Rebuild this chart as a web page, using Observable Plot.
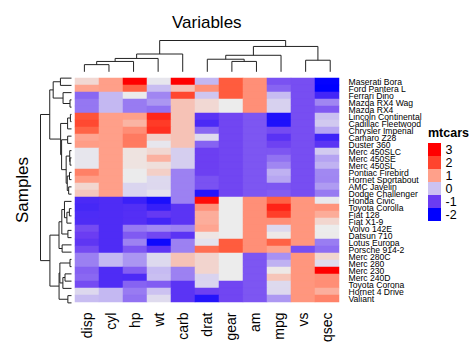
<!DOCTYPE html>
<html><head><meta charset="utf-8">
<script src="https://cdn.jsdelivr.net/npm/d3@7"></script>
<script src="https://cdn.jsdelivr.net/npm/@observablehq/plot@0.6"></script>
<style>
html,body{margin:0;padding:0;background:#fff;}
#chart{position:relative;width:474px;height:351px;font-family:"Liberation Sans",Arial,sans-serif;overflow:hidden;}
#chart svg{position:absolute;left:0;top:0;}
</style></head><body><div id="chart">
<svg width="474" height="351" style="font-family:'Liberation Sans',Arial,sans-serif;">
  <text x="206.8" y="28.3" text-anchor="middle" font-size="17">Variables</text>
  <text transform="translate(28.3,190) rotate(-90)" text-anchor="middle" font-size="17">Samples</text>
  <text x="428" y="137" font-weight="bold" font-size="12.5">mtcars</text>
</svg>
</div>
<script>
// Rows (display order, top to bottom)
const cars = ["Maserati Bora","Ford Pantera L","Ferrari Dino","Mazda RX4 Wag","Mazda RX4","Lincoln Continental","Cadillac Fleetwood","Chrysler Imperial","Camaro Z28","Duster 360","Merc 450SLC","Merc 450SE","Merc 450SL","Pontiac Firebird","Hornet Sportabout","AMC Javelin","Dodge Challenger","Honda Civic","Toyota Corolla","Fiat 128","Fiat X1-9","Volvo 142E","Datsun 710","Lotus Europa","Porsche 914-2","Merc 280C","Merc 280","Merc 230","Merc 240D","Toyota Corona","Hornet 4 Drive","Valiant"];
// Columns (display order, left to right)
const variables = ["disp","cyl","hp","wt","carb","drat","gear","am","mpg","vs","qsec"];
// Scaled values per variable, in row order
const disp = [0.57,0.97,-0.69,-0.57,-0.57,1.85,1.95,1.69,0.96,1.04,0.36,0.36,0.36,1.37,1.04,0.59,0.70,-1.25,-1.29,-1.23,-1.22,-0.89,-0.99,-1.09,-0.89,-0.51,-0.51,-0.73,-0.68,-0.89,0.22,-0.05];
const cyl  = [1.01,1.01,-0.10,-0.10,-0.10,1.01,1.01,1.01,1.01,1.01,1.01,1.01,1.01,1.01,1.01,1.01,1.01,-1.22,-1.22,-1.22,-1.22,-1.22,-1.22,-1.22,-1.22,-0.10,-0.10,-1.22,-1.22,-1.22,-0.10,-0.10];
const hp   = [2.75,1.71,0.41,-0.54,-0.54,1.00,0.85,1.22,1.43,1.43,0.49,0.49,0.49,0.41,0.41,0.19,0.19,-1.38,-1.19,-1.18,-1.18,-0.55,-0.78,-0.49,-0.81,-0.35,-0.35,-0.75,-1.24,-0.72,-0.54,-0.61];
const wt   = [0.36,-0.05,-0.46,-0.35,-0.61,2.26,2.08,2.17,0.64,0.36,0.58,0.87,0.52,0.64,0.23,0.22,0.31,-1.64,-1.41,-1.04,-1.31,-0.45,-0.92,-1.74,-1.10,0.23,0.23,-0.07,-0.03,-0.77,0.00,0.25];
const carb = [3.21,0.74,1.97,0.74,0.74,0.74,0.74,0.74,0.74,0.74,0.12,0.12,0.12,-0.50,-0.50,-0.50,-0.50,-0.50,-1.12,-1.12,-1.12,-0.50,-1.12,-0.50,-0.50,0.74,0.74,-0.50,-0.50,-1.12,-1.12,-1.12];
const drat = [-0.11,1.17,0.04,0.57,0.57,-1.12,-1.25,-0.69,0.25,-0.72,-0.98,-0.98,-0.98,-0.97,-0.84,-0.84,-1.56,2.49,1.17,0.90,0.90,0.96,0.47,0.32,1.56,0.60,0.60,0.60,0.17,0.19,-0.97,-1.56];
const gear = [1.78,1.78,1.78,0.42,0.42,-0.93,-0.93,-0.93,-0.93,-0.93,-0.93,-0.93,-0.93,-0.93,-0.93,-0.93,-0.93,0.42,0.42,0.42,0.42,0.42,0.42,1.78,1.78,0.42,0.42,0.42,0.42,-0.93,-0.93,-0.93];
const am   = [1.19,1.19,1.19,1.19,1.19,-0.81,-0.81,-0.81,-0.81,-0.81,-0.81,-0.81,-0.81,-0.81,-0.81,-0.81,-0.81,1.19,1.19,1.19,1.19,1.19,1.19,1.19,1.19,-0.81,-0.81,-0.81,-0.81,-0.81,-0.81,-0.81];
const mpg  = [-0.84,-0.71,-0.06,0.15,0.15,-1.61,-1.61,-0.89,-1.13,-0.96,-0.81,-0.61,-0.46,-0.15,-0.23,-0.81,-0.76,1.71,2.29,2.04,1.20,0.22,0.45,1.71,0.98,-0.38,-0.15,0.45,0.72,0.23,0.22,-0.33];
const vs   = [-0.87,-0.87,-0.87,-0.87,-0.87,-0.87,-0.87,-0.87,-0.87,-0.87,-0.87,-0.87,-0.87,-0.87,-0.87,-0.87,-0.87,1.12,1.12,1.12,1.12,1.12,1.12,1.12,-0.87,1.12,1.12,1.12,1.12,1.12,1.12,1.12];
const qsec = [-1.82,-1.87,-1.31,-0.46,-0.78,-0.02,0.07,-0.24,-1.36,-1.12,0.08,-0.25,-0.14,-0.45,-0.46,-0.31,-0.55,0.38,1.15,0.91,0.59,0.42,0.43,-0.53,-0.64,0.59,0.25,2.83,1.20,1.21,0.89,1.33];
// Legend breaks
const legendBreaks = [3,2,1,0,-1,-2];

// Styles
const colorStops = [-1.85,-1.0,-0.1,0.42,1.0,1.8,2.6];
const colorRange = ["#0000ff","#6a3cf2","#c4b8f2","#ececec","#ffa08a","#ff5a3c","#ff0000"];
const colorOpts = {type:"linear", domain: colorStops, range: colorRange, clamp: true};
const W = 474, H = 351, L = 71.6, R = 342, T = 74, B = 306;
const svgStyle = "position:absolute;left:0;top:0;background:transparent;overflow:visible;font-family:'Liberation Sans',Arial,sans-serif;color:#000;";

const byVar = {disp, cyl, hp, wt, carb, drat, gear, am, mpg, vs, qsec};
const cells = [];
cars.forEach((car, i) => variables.forEach(v => cells.push({car, variable: v, value: byVar[v][i]})));

// Complete-linkage hierarchical clustering (Euclidean)
function hclust(vectors) {
  const dist = vectors.map(a => vectors.map(b => Math.sqrt(d3.sum(a, (v, k) => (v - b[k]) ** 2))));
  let nodes = vectors.map((_, i) => ({leaf: i, leaves: [i], h: 0}));
  while (nodes.length > 1) {
    let best = Infinity, bi = -1, bj = -1;
    for (let i = 0; i < nodes.length; i++) for (let j = i + 1; j < nodes.length; j++) {
      let m = 0;
      for (const a of nodes[i].leaves) for (const b of nodes[j].leaves) if (dist[a][b] > m) m = dist[a][b];
      if (m < best) { best = m; bi = i; bj = j; }
    }
    const merged = {leaves: [...nodes[bi].leaves, ...nodes[bj].leaves], h: best, children: [nodes[bi], nodes[bj]]};
    nodes = nodes.filter((_, k) => k !== bi && k !== bj);
    nodes.push(merged);
  }
  return nodes[0];
}
function segments(tree) {
  const segs = [];
  function pos(node) {
    if (!node.children) return node.pos = node.leaf + 0.5;
    const kids = node.children.slice().sort((a, b) => d3.min(a.leaves) - d3.min(b.leaves));
    const ps = kids.map(pos);
    node.pos = (ps[0] + ps[1]) / 2;
    segs.push({p1: ps[0], p2: ps[1], h1: node.h, h2: node.h});
    kids.forEach(k => segs.push({p1: k.pos, p2: k.pos, h1: k.h, h2: node.h}));
    return node.pos;
  }
  pos(tree);
  return segs;
}
const rowTree = hclust(cars.map((_, i) => variables.map(v => byVar[v][i])));
const colTree = hclust(variables.map(v => byVar[v]));
const rowSegs = segments(rowTree);
const colSegs = segments(colTree);

const chart = document.getElementById("chart");

const main = Plot.plot({
  width: W, height: H,
  marginLeft: L, marginRight: W - R, marginTop: T, marginBottom: H - B,
  style: svgStyle,
  x: {type: "band", domain: variables, padding: 0, axis: null},
  y: {type: "band", domain: cars, padding: 0, axis: null},
  color: colorOpts,
  marks: [
    Plot.cell(cells, {x: "variable", y: "car", fill: "value", stroke: "value", strokeWidth: 0.5, inset: 0}),
    Plot.axisX({anchor: "bottom", tickSize: 0, tickPadding: 6, tickRotate: -90, fontSize: 14, label: null}),
    Plot.axisY({anchor: "right", tickSize: 0, tickPadding: 6, fontSize: 8.6, label: null})
  ]
});
chart.appendChild(main);

const colDendro = Plot.plot({
  width: W, height: H,
  marginLeft: L, marginRight: W - R, marginTop: 40, marginBottom: H - 71.3,
  style: svgStyle,
  x: {domain: [0, variables.length], axis: null},
  y: {domain: [0, colTree.h], axis: null},
  marks: [Plot.link(colSegs, {x1: "p1", x2: "p2", y1: "h1", y2: "h2", stroke: "#222", strokeWidth: 1})]
});
chart.appendChild(colDendro);

const rowDendro = Plot.plot({
  width: W, height: H,
  marginLeft: 40, marginRight: W - 71, marginTop: T, marginBottom: H - B,
  style: svgStyle,
  x: {domain: [rowTree.h, 0], axis: null},
  y: {domain: [0, cars.length], reverse: true, axis: null},
  marks: [Plot.link(rowSegs, {x1: "h1", x2: "h2", y1: "p1", y2: "p2", stroke: "#222", strokeWidth: 1})]
});
chart.appendChild(rowDendro);

const legend = Plot.plot({
  width: W, height: H,
  marginLeft: 428, marginRight: W - 441, marginTop: 142.7, marginBottom: H - 221,
  style: svgStyle,
  x: {type: "band", domain: ["k"], padding: 0, axis: null},
  y: {type: "band", domain: legendBreaks, padding: 0, axis: null},
  color: colorOpts,
  marks: [
    Plot.cell(legendBreaks, {x: () => "k", y: d => d, fill: d => d, inset: 0}),
    Plot.axisY({anchor: "right", tickSize: 0, tickPadding: 4, fontSize: 12.5, label: null})
  ]
});
chart.appendChild(legend);
</script></body></html>
